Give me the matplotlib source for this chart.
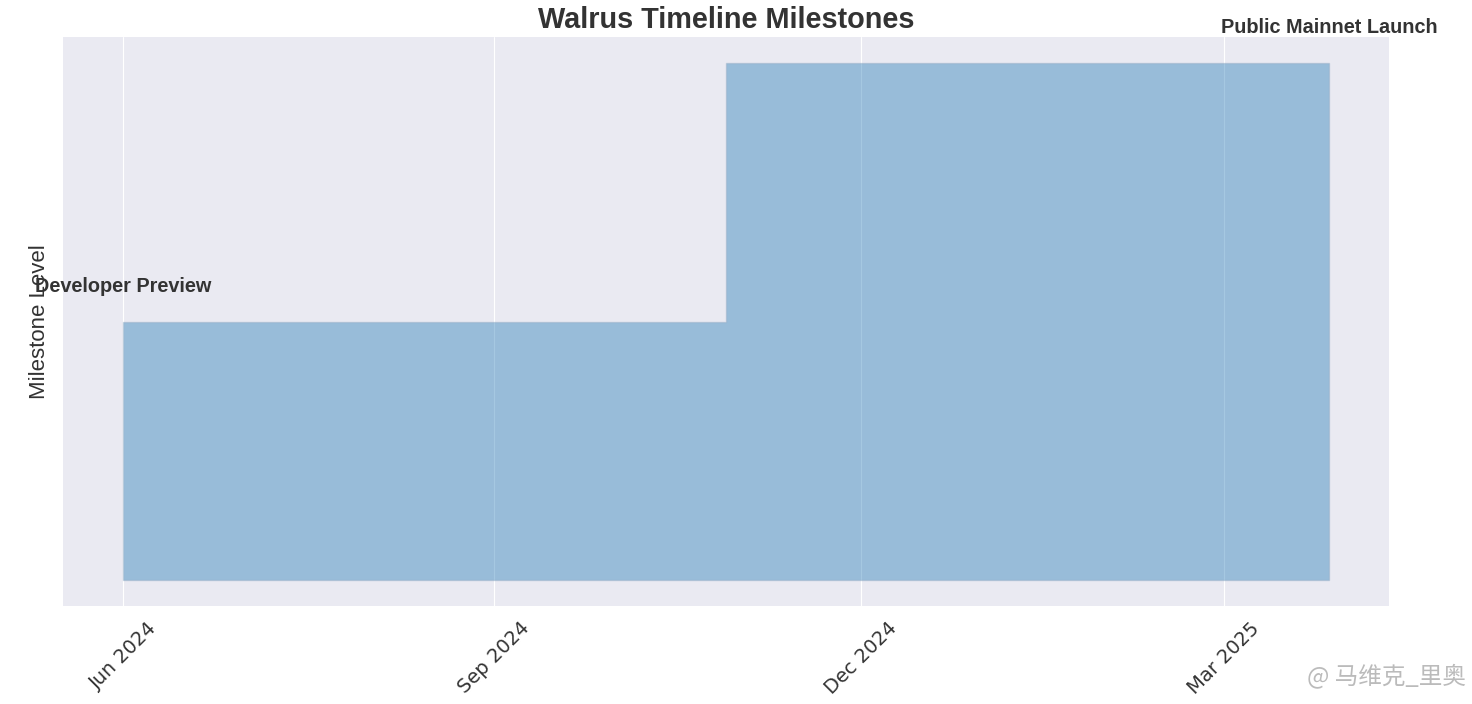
import matplotlib
matplotlib.use("Agg")
import matplotlib.pyplot as plt
import matplotlib.dates as mdates
import pandas as pd

# Milestones and their level
milestones = ["Developer Preview", "Public Mainnet Launch"]
dates = pd.to_datetime(["2024-06-01", "2025-03-27"])
levels = [1, 2]

plt.style.use("seaborn-v0_8-darkgrid")
plt.rcParams["font.family"] = ["Liberation Sans", "DejaVu Sans"]

fig = plt.figure(figsize=(14.72, 7.04), dpi=100)
ax = fig.add_axes([0.0428, 0.139, 0.901, 0.808])

ax.fill_between(dates, levels, step="mid", color="#1f77b4", alpha=0.4,
                edgecolor="#8fa8c0")

# Label each milestone
for d, lvl, name in zip(dates, levels, milestones):
    ax.text(d, lvl + 0.1, name, ha="center", va="bottom",
            fontsize=14.3, fontweight="bold", color="#333333")

ax.set_title("Walrus Timeline Milestones", fontsize=20.8, fontweight="bold",
             color="#333333", pad=7)
ax.set_ylabel("Milestone Level", fontsize=16, color="#333333")
ax.yaxis.set_label_coords(-0.0098, 0.5)
ax.set_yticks([])
ax.xaxis.set_major_locator(mdates.MonthLocator(bymonth=[3, 6, 9, 12]))
ax.xaxis.set_major_formatter(mdates.DateFormatter("%b %Y"))
ax.tick_params(axis="x", pad=9)
plt.setp(ax.get_xticklabels(), rotation=45, fontsize=14, color="#333333",
         family=["DejaVu Sans"])
ax.grid(axis="y", visible=False)

fig.text(0.996, 0.022, "@ 马维克_里奥", ha="right", va="bottom", fontsize=17,
         color="#bbbbbb", family=["Noto Sans CJK SC", "DejaVu Sans"])

fig.savefig("out.png", dpi=100)
